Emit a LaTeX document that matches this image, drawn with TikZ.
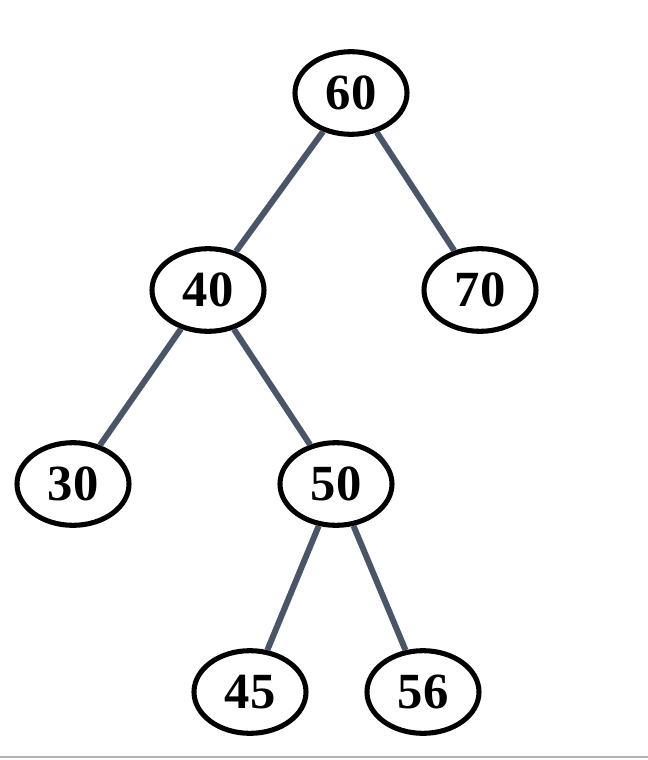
\documentclass[tikz,border=0pt]{standalone}
\usepackage{fontspec}
\setmainfont{Liberation Serif}
\usetikzlibrary{shapes.geometric}
\definecolor{edgec}{HTML}{4A5568}
\begin{document}
\begin{tikzpicture}[x=0.75pt,y=-0.75pt,
  tnode/.style={ellipse,draw=black,line width=3.8pt,minimum width=84pt,minimum height=62pt,inner sep=0pt,font=\fontsize{38}{40}\selectfont\bfseries},
  tedge/.style={draw=edgec,line width=4.5pt}]
\useasboundingbox (0,0) rectangle (648,760);
\draw[gray!60,line width=1pt] (0,757) -- (648,757);
\node[tnode] (n60) at (351,93) {60};
\node[tnode] (n40) at (208,290) {40};
\node[tnode] (n70) at (480,290) {70};
\node[tnode] (n30) at (73,484) {30};
\node[tnode] (n50) at (336,484) {50};
\node[tnode] (n45) at (250,692) {45};
\node[tnode] (n56) at (423,692) {56};
\draw[tedge] (n60) -- (n40);
\draw[tedge] (n60) -- (n70);
\draw[tedge] (n40) -- (n30);
\draw[tedge] (n40) -- (n50);
\draw[tedge] (n50) -- (n45);
\draw[tedge] (n50) -- (n56);
\end{tikzpicture}
\end{document}
